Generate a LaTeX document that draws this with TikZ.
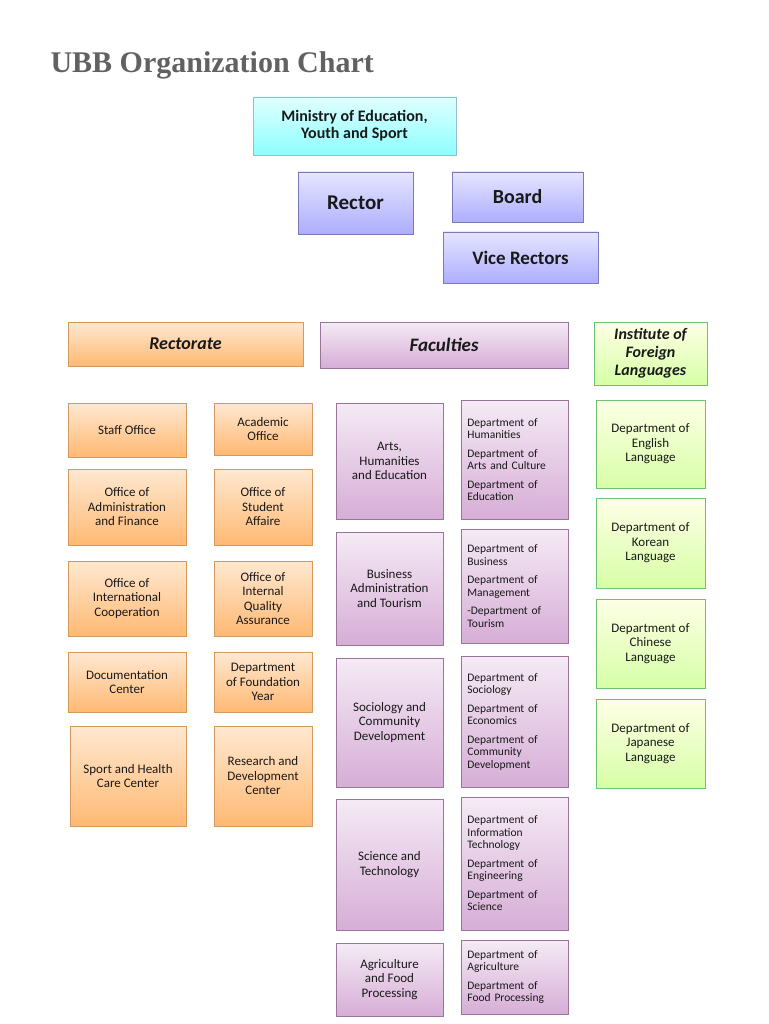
\documentclass[tikz,border=0pt]{standalone}
\usepackage{fontspec}
\setmainfont{Carlito}
\newfontfamily\titlefont{Liberation Serif}
\usetikzlibrary{backgrounds}
\definecolor{ln}{HTML}{A3A3A3}
\begin{document}
\begin{tikzpicture}[x=1pt,y=-1pt,
 box/.style={draw,line width=0.8pt,align=center,inner sep=2pt,text=black!90,font=\fontsize{13}{14.5}\selectfont},
 cy/.style={box,top color=cyan!12,bottom color=cyan!45!white,draw=cyan!40!gray!70},
 bl/.style={box,top color=blue!10,bottom color=blue!32!white,draw=blue!30!gray!80},
 og/.style={box,top color=orange!18,bottom color=orange!55!white,draw=orange!60!gray!80},
 pu/.style={box,top color=violet!8,bottom color=violet!32!white,draw=violet!35!gray!80},
 gr/.style={box,top color=green!6!yellow!10,bottom color=green!45!yellow!35!white,draw=green!40!gray!80},
 dep/.style={pu,align=left,font=\fontsize{11.5}{12.5}\selectfont,anchor=west},
 con/.style={draw=ln,line width=3.5pt}]
\useasboundingbox[fill=white] (0,0) rectangle (768,1024);
\node[anchor=base west,font=\titlefont\fontsize{30}{32}\selectfont\bfseries,text=black!62] (title) at (47,73) {UBB Organization Chart};
\node[cy,minimum width=203,minimum height=58,font=\fontsize{16}{17}\selectfont\bfseries] (min) at (354.5,126) {Ministry of Education,\\Youth and Sport};
\node[bl,minimum width=115,minimum height=62,font=\fontsize{21}{22}\selectfont\bfseries] (rector) at (355.5,203) {Rector};
\node[bl,minimum width=131,minimum height=50,font=\fontsize{20}{22}\selectfont\bfseries] (board) at (517.5,197) {Board};
\node[bl,minimum width=155,minimum height=51,font=\fontsize{19}{22}\selectfont\bfseries] (vice) at (520.5,257.5) {Vice Rectors};
\node[og,minimum width=235,minimum height=44,font=\fontsize{18}{20}\selectfont\bfseries\itshape] (rectorate) at (185.5,344) {Rectorate};
\node[pu,minimum width=248,minimum height=46,font=\fontsize{19}{20}\selectfont\bfseries\itshape] (fac) at (444,345) {Faculties};
\node[gr,minimum width=113,minimum height=63,font=\fontsize{16}{18}\selectfont\bfseries\itshape] (inst) at (650.5,353.5) {Institute of\\Foreign\\Languages};
% rectorate offices
\node[og,minimum width=118,minimum height=54] (l1) at (127,430) {Staff Office};
\node[og,minimum width=98,minimum height=52] (r1) at (263,429) {Academic\\Office};
\node[og,minimum width=118,minimum height=76] (l2) at (127,507) {Office of\\Administration\\and Finance};
\node[og,minimum width=98,minimum height=76] (r2) at (263,507) {Office of\\Student\\Affaire};
\node[og,minimum width=118,minimum height=75] (l3) at (127,598.5) {Office of\\International\\Cooperation};
\node[og,minimum width=98,minimum height=75] (r3) at (263,598.5) {Office of\\Internal\\Quality\\Assurance};
\node[og,minimum width=118,minimum height=60] (l4) at (127,682) {Documentation\\Center};
\node[og,minimum width=98,minimum height=60] (r4) at (263,682) {Department\\of Foundation\\Year};
\node[og,minimum width=116,minimum height=100] (l5) at (128,776) {Sport and Health\\Care Center};
\node[og,minimum width=98,minimum height=100] (r5) at (263,776) {Research and\\Development\\Center};
% faculties
\node[pu,minimum width=107,minimum height=116] (f1) at (389.5,461) {Arts,\\Humanities\\and Education};
\node[dep,minimum width=107,minimum height=119,text width=95] (d1) at (461,459.5) {Department of\\Humanities\\[6pt]Department of\\Arts and Culture\\[6pt]Department of\\Education};
\node[pu,minimum width=107,minimum height=113] (f2) at (389.5,588.5) {Business\\Administration\\and Tourism};
\node[dep,minimum width=107,minimum height=114,text width=95] (d2) at (461,586) {Department of\\Business\\[6pt]Department of\\Management\\[6pt]-Department of\\Tourism};
\node[pu,minimum width=107,minimum height=129] (f3) at (389.5,722.5) {Sociology and\\Community\\Development};
\node[dep,minimum width=107,minimum height=131,text width=95] (d3) at (461,721.5) {Department of\\Sociology\\[6pt]Department of\\Economics\\[6pt]Department of\\Community\\Development};
\node[pu,minimum width=107,minimum height=131] (f4) at (389.5,864.5) {Science and\\Technology};
\node[dep,minimum width=107,minimum height=133,text width=95] (d4) at (461,863.5) {Department of\\Information\\Technology\\[6pt]Department of\\Engineering\\[6pt]Department of\\Science};
\node[pu,minimum width=107,minimum height=73] (f5) at (389.5,979.5) {Agriculture\\and Food\\Processing};
\node[dep,minimum width=107,minimum height=74,text width=95] (d5) at (461,977) {Department of\\Agriculture\\[6pt]Department of\\Food Processing};
% institute
\node[gr,minimum width=109,minimum height=88] (i1) at (650.5,444) {Department of\\English\\Language};
\node[gr,minimum width=109,minimum height=90] (i2) at (650.5,543) {Department of\\Korean\\Language};
\node[gr,minimum width=109,minimum height=89] (i3) at (650.5,643.5) {Department of\\Chinese\\Language};
\node[gr,minimum width=109,minimum height=89] (i4) at (650.5,743.5) {Department of\\Japanese\\Language};
\coordinate (barL) at (200,293);
\coordinate (barR) at (645,293);
\coordinate (rv) at (200,776);
\coordinate (fv) at (322,368);
\coordinate (iv) at (582,352);
\begin{scope}[on background layer]
\draw[con] (min.south) -- (rector.north);
\draw[con] (rector.south) -- (rector.south |- fac.north);
\draw[con] (rector.east) -- (rector.east -| board.west);
\draw[con] (rector.south |- vice.west) -- (vice.west);
\draw[con] (barL) -- (barR);
\draw[con] (barL) -- (barL |- rectorate.north);
\draw[con] (barR) -- (barR |- inst.north);
\draw[con] (barL |- rectorate.south) -- (rv);
\foreach \i in {1,...,5} {\draw[con] (l\i.east) -- (l\i.east -| r\i.west);}
\draw[con] (fv) -- (fv |- f5.west);
\foreach \i in {1,...,5} {\draw[con] (fv |- f\i.west) -- (f\i.west);
 \draw[con] (f\i.east) -- (f\i.east -| d\i.west);}
\draw[con] (iv) -- (inst.west |- iv);
\draw[con] (iv) -- (iv |- i4.west);
\foreach \i in {1,...,4} {\draw[con] (iv |- i\i.west) -- (i\i.west);}
\end{scope}
\end{tikzpicture}
\end{document}
